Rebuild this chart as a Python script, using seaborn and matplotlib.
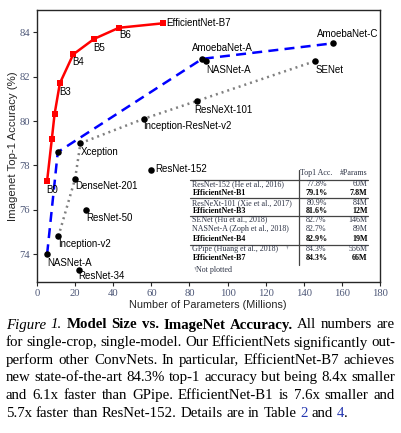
import matplotlib
matplotlib.use("Agg")
import matplotlib.pyplot as plt
from matplotlib.lines import Line2D
import seaborn as sns
import pandas as pd

# EfficientNet family (red)
eff_names = ["B0", "", "", "B3", "B4", "B5", "B6", "EfficientNet-B7"]
eff_params = [5.3, 7.8, 9.2, 12, 19, 30, 43, 66]
eff_acc = [77.3, 79.2, 80.3, 81.7, 83.0, 83.7, 84.2, 84.4]

# NAS family (blue dashed)
nas_names = ["NASNet-A", "", "AmoebaNet-A", "AmoebaNet-C"]
nas_params = [5.3, 10.9, 86.7, 155.3]
nas_acc = [74.0, 78.6, 82.8, 83.5]

# hand-designed family (gray dotted)
hand_names = ["Inception-v2", "DenseNet-201", "Xception", "Inception-ResNet-v2", "ResNeXt-101", "SENet"]
hand_params = [11.2, 20, 22.8, 56, 83.8, 146]
hand_acc = [74.8, 77.4, 79.0, 80.1, 80.9, 82.7]

# unconnected points
other_names = ["ResNet-152", "ResNet-50", "ResNet-34", "NASNet-A"]
other_params = [60, 25.6, 21.8, 88.9]
other_acc = [77.8, 76.0, 73.3, 82.7]

# label offsets (pixels)
offsets = {
    "B0": (-1, -9), "B3": (-1, -8.5), "B4": (-1, -8), "B5": (-1, -8.7), "B6": (0, -7.7),
    "EfficientNet-B7": (3, 0), "AmoebaNet-A": (-10, 10.5), "AmoebaNet-C": (-16, 9),
    "Inception-v2": (0, -7.3), "DenseNet-201": (0, -7), "Xception": (0, -9),
    "Inception-ResNet-v2": (-1, -7.7), "ResNeXt-101": (-2, -9), "SENet": (0, -8.7),
    "ResNet-152": (4, 1), "ResNet-50": (0, -7.7), "ResNet-34": (0, -6.7),
}

# inset table
table_models = ["ResNet-152 (He et al., 2016)", "EfficientNet-B1",
                "ResNeXt-101 (Xie et al., 2017)", "EfficientNet-B3",
                "SENet (Hu et al., 2018)", "NASNet-A (Zoph et al., 2018)", "EfficientNet-B4",
                "GPipe (Huang et al., 2018)", "EfficientNet-B7"]
table_acc = ["77.8%", "79.1%", "80.9%", "81.6%", "82.7%", "82.7%", "82.9%", "84.3%", "84.3%"]
table_params = ["60M", "7.8M", "84M", "12M", "146M", "89M", "19M", "556M", "66M"]
table_bold = [False, True, False, True, False, False, True, False, True]

caption_lines = [
    [("Figure", "it"), ("1.", "it"), ("Model", "bf"), ("Size", "bf"), ("vs.", "bf"),
     ("ImageNet", "bf"), ("Accuracy.", "bf"), ("All", "rm"), ("numbers", "rm"), ("are", "rm")],
    [(w, "rm") for w in "for single-crop, single-model. Our EfficientNets significantly out-".split()],
    [(w, "rm") for w in "perform other ConvNets. In particular, EfficientNet-B7 achieves".split()],
    [(w, "rm") for w in "new state-of-the-art 84.3% top-1 accuracy but being 8.4x smaller".split()],
    [(w, "rm") for w in "and 6.1x faster than GPipe. EfficientNet-B1 is 7.6x smaller and".split()],
    [(w, "rm") for w in "5.7x faster than ResNet-152. Details are in Table".split()]
    + [("2", "link"), ("and", "rm"), ("4", "link"), (".", "glue")],
]

sns.set_style("ticks")
plt.rcParams["font.family"] = ["Liberation Sans", "DejaVu Sans"]

W, H = 401, 433
fig = plt.figure(figsize=(W / 100, H / 100), dpi=100)
ax = fig.add_axes([37 / W, 1 - 282 / H, (380 - 37) / W, (282 - 10) / H])

df_eff = pd.DataFrame({"params": eff_params, "acc": eff_acc})
df_nas = pd.DataFrame({"params": nas_params, "acc": nas_acc})
df_hand = pd.DataFrame({"params": hand_params, "acc": hand_acc})
df_other = pd.DataFrame({"params": other_params, "acc": other_acc})

sns.lineplot(data=df_hand, x="params", y="acc", sort=False, color="#808080",
             linewidth=1.8, linestyle=(0, (0.8, 1.6)), ax=ax, zorder=2)
sns.lineplot(data=df_nas, x="params", y="acc", sort=False, color="#0000ff",
             linewidth=1.8, linestyle=(0, (4, 2.5)), ax=ax, zorder=2)
sns.lineplot(data=df_eff, x="params", y="acc", sort=False, color="#ff0000",
             linewidth=1.8, marker="s", markersize=5, markeredgewidth=0, ax=ax, zorder=3)
for d in [df_hand, df_nas, df_other]:
    sns.scatterplot(data=d, x="params", y="acc", color="black", s=22, linewidth=0, ax=ax, zorder=4)

for names, xs, ys in [(eff_names, eff_params, eff_acc), (nas_names, nas_params, nas_acc),
                      (hand_names, hand_params, hand_acc), (other_names, other_params, other_acc)]:
    for n, x, y in zip(names, xs, ys):
        if not n:
            continue
        off = offsets.get(n, (0, -8.7))
        ax.annotate(n, (x, y), xytext=off, textcoords="offset pixels",
                    ha="left", va="center", fontsize=7, color="black")

ax.set_xlim(0, 180)
ax.set_ylim(72.75, 85)
ax.set_xticks(range(0, 181, 20))
ax.set_yticks([74, 76, 78, 80, 82, 84])
ax.tick_params(labelsize=7.7, labelcolor="#4e5878", length=3, width=0.8, direction="out", pad=2)
for lab in ax.get_xticklabels() + ax.get_yticklabels():
    lab.set_family("Liberation Serif")
for s in ax.spines.values():
    s.set_visible(True)
    s.set_linewidth(1.0)
ax.set_xlabel("Number of Parameters (Millions)", fontsize=7.8)
ax.set_ylabel("Imagenet Top-1 Accuracy (%)", fontsize=8.2)
ax.xaxis.set_label_coords((208 - 37) / 343, (282 - 305) / 272)
ax.yaxis.set_label_coords((13 - 37) / 343, (282 - 146.5) / 272)
ax.xaxis.label.set_va("center")
ax.yaxis.label.set_va("center")


def fx(x):
    return x / W


def fy(y):
    return 1 - y / H


# table
serif = "Liberation Serif"
tcol = "#2e3446"
tsize = 5.8
row_y = [184.3, 192.7, 202.7, 210.7, 219.5, 229.3, 238.8, 249.3, 258.5]
fig.text(fx(299.5), fy(173.3), "Top1 Acc.", family=serif, fontsize=tsize, color=tcol, va="center")
fig.text(fx(367.5), fy(173.3), "#Params", family=serif, fontsize=tsize, color=tcol, va="center", ha="right")
for m, a, p, b, y in zip(table_models, table_acc, table_params, table_bold, row_y):
    kw = dict(family=serif, fontsize=tsize, va="center",
              color="black" if b else tcol, weight="bold" if b else "normal")
    fig.text(fx(192.5), fy(y), m, **kw)
    fig.text(fx(316.5), fy(y), a, ha="center", **kw)
    fig.text(fx(367.5), fy(y), p, ha="right", **kw)
# dagger marks
fig.text(fx(285.5), fy(247.5), "\u2020", family=serif, fontsize=3.8, color=tcol, va="center")
fig.text(fx(196), fy(268.5), "\u2020", family=serif, fontsize=3.8, color=tcol, va="center", ha="right")
fig.text(fx(196.5), fy(270), "Not plotted", family=serif, fontsize=tsize, color=tcol, va="center")
for y in [180, 198.3, 216, 245]:
    fig.add_artist(Line2D([fx(190), fx(368)], [fy(y), fy(y)], transform=fig.transFigure,
                          color="#444444", linewidth=0.9))
fig.add_artist(Line2D([fx(298.7), fx(298.7)], [fy(170), fy(265)], transform=fig.transFigure,
                      color="#444444", linewidth=0.9))

# caption, justified line by line
renderer = fig.canvas.get_renderer()
csize = 10.7
styles = {
    "rm": dict(family=serif, fontsize=csize, color="black"),
    "glue": dict(family=serif, fontsize=csize, color="black"),
    "it": dict(family=serif, fontsize=csize, style="italic", color="black"),
    "bf": dict(family=serif, fontsize=csize, weight="bold", color="black"),
    "link": dict(family=serif, fontsize=csize, color="#2436b0"),
}
t1 = fig.text(0, 0, "a a", **styles["rm"])
t2 = fig.text(0, 0, "aa", **styles["rm"])
space_w = t1.get_window_extent(renderer).width - t2.get_window_extent(renderer).width
t1.remove()
t2.remove()

left, right = 6, 395
for i, line in enumerate(caption_lines):
    y = 325 + 17.65 * i
    texts = [fig.text(0, fy(y), w, va="center", ha="left", **styles[st]) for w, st in line]
    widths = [t.get_window_extent(renderer).width for t in texts]
    n_gaps = sum(1 for w, st in line[1:] if st != "glue")
    last = i == len(caption_lines) - 1
    gap = space_w if last else (right - left - sum(widths)) / max(n_gaps, 1)
    x = left
    for j, (t, wdt) in enumerate(zip(texts, widths)):
        if j > 0 and line[j][1] != "glue":
            x += gap
        t.set_x(fx(x))
        x += wdt

fig.savefig("out.png", dpi=100)
